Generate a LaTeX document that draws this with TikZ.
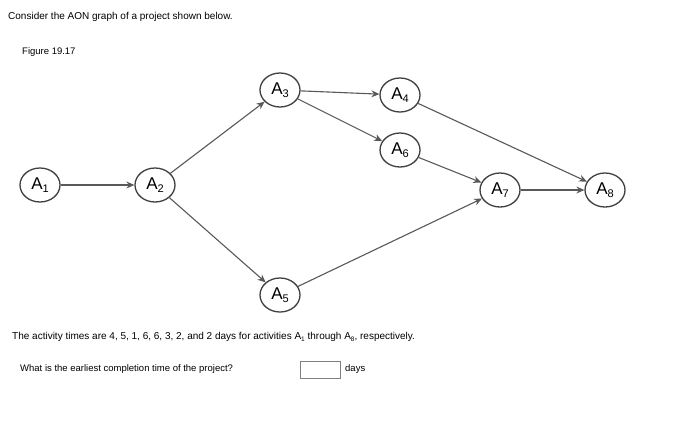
\documentclass[tikz,border=0pt]{standalone}
\usepackage{fontspec}
\setmainfont{Liberation Sans}
\usetikzlibrary{arrows.meta,shapes.geometric}
\newcommand{\sbs}[1]{\raisebox{-0.35ex}{\fontsize{0.65em}{1em}\selectfont #1}}
\begin{document}
\begin{tikzpicture}[x=1pt,y=-1pt,
  act/.style={draw=black!75,line width=1.3pt,fill=white,ellipse,inner sep=0pt,minimum width=40pt,minimum height=34pt,font=\fontsize{17}{17}\selectfont},
  conn/.style={draw=black!65,line width=1.1pt,-{Stealth[length=8pt,width=7pt]}},
  txt/.style={anchor=west,inner sep=0pt,font=\fontsize{10}{12}\selectfont}]
\useasboundingbox[fill=white] (0,0) rectangle (700,440);
\node[act] (a1) at (40,185) {A\sbs{1}};
\node[act] (a2) at (155,185) {A\sbs{2}};
\node[act] (a3) at (280,90) {A\sbs{3}};
\node[act] (a4) at (400,95) {A\sbs{4}};
\node[act] (a6) at (400,150) {A\sbs{6}};
\node[act] (a7) at (500,190) {A\sbs{7}};
\node[act] (a8) at (605,190) {A\sbs{8}};
\node[act] (a5) at (280,295) {A\sbs{5}};
\draw[conn] (a1) -- (a2);
\draw[conn] (a2) -- (a3);
\draw[conn] (a2) -- (a5);
\draw[conn] (a3) -- (a4);
\draw[conn] (a3) -- (a6);
\draw[conn] (a4) -- (a8);
\draw[conn] (a6) -- (a7);
\draw[conn] (a5) -- (a7);
\draw[conn] (a7) -- (a8);
\node[txt] (t1) at (8,17) {Consider the AON graph of a project shown below.};
\node[txt,font=\fontsize{9.5}{11}\selectfont] (t2) at (22,52) {Figure 19.17};
\node[txt] (t3) at (12,337) {The activity times are 4, 5, 1, 6, 6, 3, 2, and 2 days for activities A\sbs{1} through A\sbs{8}, respectively.};
\node[txt,font=\fontsize{9.5}{11}\selectfont] (t4) at (20,369) {What is the earliest completion time of the project?};
\node[draw=black!50,fill=white,minimum width=40pt,minimum height=17pt,inner sep=0pt] (box) at (320,370) {};
\node[txt,font=\fontsize{9.5}{11}\selectfont] (t5) at (345,369) {days};
\end{tikzpicture}
\end{document}
